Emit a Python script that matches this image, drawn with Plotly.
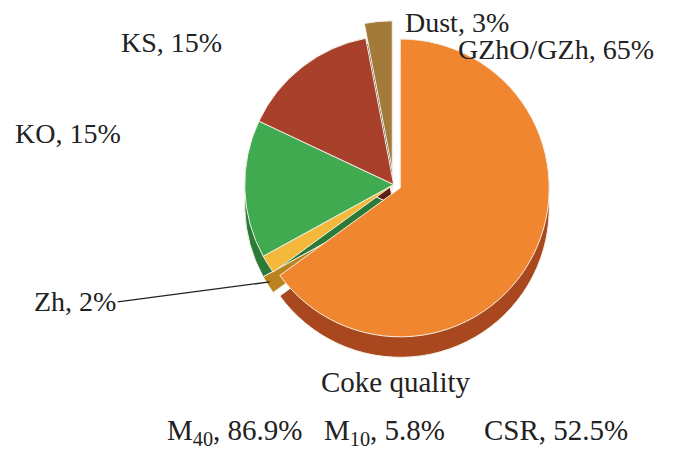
import plotly.graph_objects as go

# coal blend composition (%), clockwise from the top
grades = ["GZhO/GZh", "Zh", "KO", "KS", "Dust"]
shares = [65, 2, 15, 15, 3]
colors = ["#F0862F", "#F4B93A", "#3FAA4F", "#A8402C", "#A37A3A"]
side_colors = ["#A9481F", "#B98420", "#2B7A37", "#5E1F16", "#4F3A1A"]
pulls = [0.05, 0, 0, 0, 0.1]

# coke quality indices
quality_names = ["M<sub>40</sub>", "M<sub>10</sub>", "CSR"]
quality_vals = [86.9, 5.8, 52.5]

# where each slice label sits (paper coords), same order as grades
label_pos = [(0.8, 0.908), (0.2, 0.345), (0.088, 0.725), (0.238, 0.925), (0.655, 0.968)]
quality_x = [0.331, 0.550, 0.800]

serif = "Liberation Serif, Times New Roman, serif"
depth = 0.045
pie_x = [0.278, 0.848]
pie_y0 = 0.252


def pie(cols, y0):
    return go.Pie(
        labels=grades,
        values=shares,
        sort=False,
        direction="clockwise",
        rotation=0,
        pull=pulls,
        marker=dict(colors=cols, line=dict(color="#F4F0E6", width=1)),
        textinfo="none",
        hoverinfo="label+percent",
        showlegend=False,
        domain=dict(x=pie_x, y=[y0, y0 + 0.72]),
    )


fig = go.Figure()
# darker copy slightly lower gives the slab its thickness
fig.add_trace(pie(side_colors, pie_y0 - depth))
fig.add_trace(pie(colors, pie_y0))

annotations = []
for (g, s), (x, y) in zip(zip(grades, shares), label_pos):
    a = dict(text=f"{g}, {s}%", x=x, y=y, xref="paper", yref="paper",
             xanchor="center", yanchor="middle", showarrow=False,
             font=dict(size=28))
    if g == "Zh":
        # leader line from the thin slice out to its label
        a.update(showarrow=True, arrowhead=0, arrowwidth=1.3, arrowcolor="#222222",
                 x=0.382, y=0.398, ax=-152, ay=20, xanchor="right")
    annotations.append(a)

annotations.append(
    dict(text="Coke quality", x=0.566, y=0.139, xref="paper", yref="paper",
         xanchor="center", showarrow=False)
)
for n, v, x in zip(quality_names, quality_vals, quality_x):
    annotations.append(
        dict(text=f"{n}, {v}%", x=x, y=0.112, xref="paper", yref="paper",
             xanchor="center", yanchor="top", showarrow=False)
    )

fig.update_layout(
    width=685,
    height=455,
    margin=dict(l=0, r=0, t=0, b=0),
    paper_bgcolor="white",
    font=dict(family=serif, size=29, color="#222222"),
    annotations=annotations,
)

fig.write_html("out.html")
